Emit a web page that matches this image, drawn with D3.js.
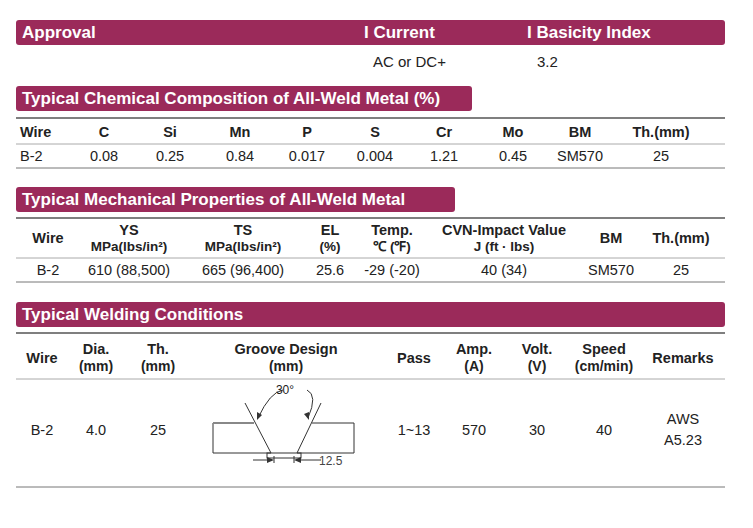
<!DOCTYPE html><html><head><meta charset="utf-8"><script src="https://cdn.jsdelivr.net/npm/d3@7"></script>
<style>body{margin:0;background:#fff}text{font-family:Arial,"Liberation Sans",sans-serif}</style></head><body>
<script>
const chemHeaders=["Wire","C","Si","Mn","P","S","Cr","Mo","BM","Th.(mm)"];
const chemValues=["B-2","0.08","0.25","0.84","0.017","0.004","1.21","0.45","SM570","25"];
const mechHeaders=[["Wire"],["YS","MPa(lbs/in²)"],["TS","MPa(lbs/in²)"],["EL","(%)"],["Temp.","℃ (℉)"],["CVN-Impact Value","J (ft · lbs)"],["BM"],["Th.(mm)"]];
const mechValues=["B-2","610 (88,500)","665 (96,400)","25.6","-29 (-20)","40 (34)","SM570","25"];
const weldHeaders=[["Wire"],["Dia.","(mm)"],["Th.","(mm)"],["Groove Design","(mm)"],["Pass"],["Amp.","(A)"],["Volt.","(V)"],["Speed","(cm/min)"],["Remarks"]];
const weldValues=[["B-2"],["4.0"],["25"],[""],["1~13"],["570"],["30"],["40"],["AWS","A5.23"]];
const chemX=[20,104,170,240,307,375,444,513,580,661];
const mechX=[48,129,243,330,392,504,611,681];
const weldX=[42,96,158,286,414,474,537,604,683];
const C="#9b2a5a";
const svg=d3.select("body").append("svg").attr("width",753).attr("height",528);
function bar(y,w,t){svg.append("rect").attr("x",16).attr("y",y).attr("width",w).attr("height",25).attr("rx",3).attr("fill",C);
 svg.append("text").attr("x",22).attr("y",y+18).attr("fill","#fff").attr("font-weight","bold").attr("font-size",17).text(t);}
function rule(y,c,w){svg.append("line").attr("x1",16).attr("x2",725).attr("y1",y).attr("y2",y).attr("stroke",c).attr("stroke-width",w);}
function txt(x,y,t,a,s,b){svg.append("text").attr("x",x).attr("y",y).attr("text-anchor",a||"middle").attr("font-size",s||14.5).attr("font-weight",b?"bold":null).attr("fill","#222").text(t);}
// Approval
bar(20,709,"Approval");
svg.append("text").attr("x",364).attr("y",38).attr("fill","#fff").attr("font-weight","bold").attr("font-size",17).text("I Current");
svg.append("text").attr("x",527).attr("y",38).attr("fill","#fff").attr("font-weight","bold").attr("font-size",17).text("I Basicity Index");
txt(373,67,"AC or DC+","start",15);txt(537,67,"3.2","start",15);
// Chem
bar(86,456,"Typical Chemical Composition of All-Weld Metal (%)");
rule(118,"#555",1.5);
chemHeaders.forEach((h,i)=>txt(chemX[i],137,h,i==0?"start":"middle",14.5,true));
rule(144,"#aaa",1);
chemValues.forEach((h,i)=>txt(chemX[i],161,h,i==0?"start":"middle",14.5));
rule(168,"#777",1);
// Mech
bar(187,439,"Typical Mechanical Properties of All-Weld Metal");
rule(218,"#555",1.5);
mechHeaders.forEach((h,i)=>{if(h.length==1)txt(mechX[i],243,h[0],"middle",14.5,true);else{txt(mechX[i],235,h[0],"middle",14.5,true);txt(mechX[i],251,h[1],"middle",13.5,true);}});
rule(258,"#aaa",1);
mechValues.forEach((h,i)=>txt(mechX[i],275,h));
rule(282,"#777",1);
// Weld
bar(302,709,"Typical Welding Conditions");
rule(333,"#555",1.5);
weldHeaders.forEach((h,i)=>{if(h.length==1)txt(weldX[i],363,h[0],"middle",14.5,true);else{txt(weldX[i],354,h[0],"middle",14.5,true);txt(weldX[i],371,h[1],"middle",14,true);}});
rule(379,"#aaa",1);
weldValues.forEach((h,i)=>{if(h.length==1)txt(weldX[i],435,h[0]);else{txt(weldX[i],424,h[0]);txt(weldX[i],445,h[1]);}});
rule(487,"#777",1);
// groove
const g=svg.append("g").attr("stroke","#333").attr("fill","none").attr("stroke-width",1);
g.append("path").attr("d","M254,423 H213 V453 H271 M297,453 H354 V423 H312");
g.append("line").attr("x1",213).attr("x2",254).attr("y1",423).attr("y2",423).attr("stroke","#888").attr("stroke-width",2);
g.append("line").attr("x1",245).attr("y1",403).attr("x2",271).attr("y2",453);
g.append("line").attr("x1",321).attr("y1",403).attr("x2",297).attr("y2",453);
g.append("rect").attr("x",267).attr("y",453).attr("width",34).attr("height",5);
g.append("path").attr("d","M274,456 V463 M294,456 V463");
g.append("path").attr("d","M253,460 H272 M321,460 H296");
g.append("path").attr("d","M258,418 Q270,392 283,390 M307,390 Q318,395 308,418");
svg.append("g").attr("fill","#333").selectAll("path").data(["M274,460 l-7,-3 v6z","M294,460 l7,-3 v6z","M257,420 l0,-8 l5,3z","M309,420 l-5,-6 l5,-2z"]).join("path").attr("d",d=>d);
txt(285,394,"30°","middle",12);
svg.append("text").attr("x",319).attr("y",465).attr("font-size",12).attr("fill","#444").text("12.5");
</script></body></html>
